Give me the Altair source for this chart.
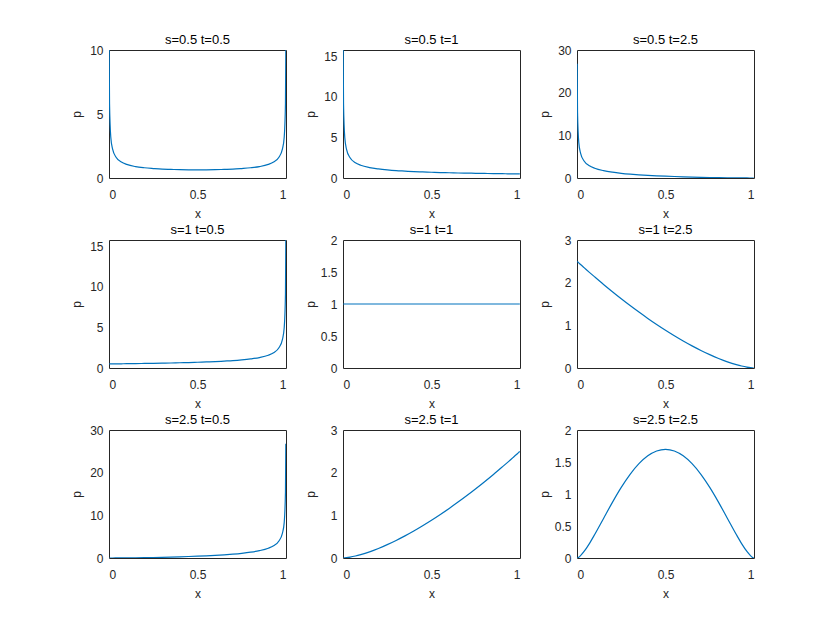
import altair as alt
import pandas as pd

# x positions at which the curves were read
X = [0.001, 0.003, 0.01, 0.02, 0.04, 0.07, 0.1, 0.15, 0.2, 0.25, 0.3, 0.35, 0.4, 0.45, 0.5,
     0.55, 0.6, 0.65, 0.7, 0.75, 0.8, 0.85, 0.9, 0.93, 0.96, 0.98, 0.99, 0.997, 0.999]

# p values
P_S05_T05 = [10.07, 5.82, 3.20, 2.27, 1.62, 1.25, 1.06, 0.89, 0.80, 0.74, 0.69, 0.67, 0.65, 0.64, 0.64,
             0.64, 0.65, 0.67, 0.69, 0.74, 0.80, 0.89, 1.06, 1.25, 1.62, 2.27, 3.20, 5.82, 10.07]
P_S05_T1 = [15.81, 9.13, 5.00, 3.54, 2.50, 1.89, 1.58, 1.29, 1.12, 1.00, 0.91, 0.85, 0.79, 0.75, 0.71,
            0.67, 0.65, 0.62, 0.60, 0.58, 0.56, 0.54, 0.53, 0.52, 0.51, 0.505, 0.50, 0.50, 0.50]
P_S05_T25 = [26.80, 15.43, 8.36, 5.82, 3.99, 2.877, 2.292, 1.717, 1.358, 1.103, 0.908, 0.752, 0.624, 0.516, 0.424,
             0.346, 0.277, 0.218, 0.167, 0.1225, 0.0849, 0.0535, 0.0283, 0.0163, 0.0069, 0.0024, 0.0009, 0.0001, 0.0]
P_S1_T05 = [0.50, 0.50, 0.50, 0.505, 0.51, 0.52, 0.53, 0.54, 0.56, 0.58, 0.60, 0.62, 0.65, 0.67, 0.71,
            0.75, 0.79, 0.85, 0.91, 1.00, 1.12, 1.29, 1.58, 1.89, 2.50, 3.54, 5.00, 9.13, 15.81]
P_S1_T1 = [1.0, 1.0, 1.0, 1.0, 1.0, 1.0, 1.0, 1.0, 1.0, 1.0, 1.0, 1.0, 1.0, 1.0, 1.0,
           1.0, 1.0, 1.0, 1.0, 1.0, 1.0, 1.0, 1.0, 1.0, 1.0, 1.0, 1.0, 1.0, 1.0]
P_S1_T25 = [2.496, 2.489, 2.463, 2.425, 2.352, 2.242, 2.135, 1.959, 1.789, 1.624, 1.464, 1.310, 1.162, 1.020, 0.884,
            0.755, 0.632, 0.518, 0.411, 0.3125, 0.224, 0.145, 0.079, 0.046, 0.020, 0.0071, 0.0025, 0.0004, 0.0001]
P_S25_T05 = [0.0, 0.0001, 0.0009, 0.0024, 0.0069, 0.0163, 0.0283, 0.0535, 0.0849, 0.1225, 0.167, 0.218, 0.277, 0.346, 0.424,
             0.516, 0.624, 0.752, 0.908, 1.103, 1.358, 1.717, 2.292, 2.877, 3.99, 5.82, 8.36, 15.43, 26.80]
P_S25_T1 = [0.0001, 0.0004, 0.0025, 0.0071, 0.020, 0.046, 0.079, 0.145, 0.224, 0.3125, 0.411, 0.518, 0.632, 0.755, 0.884,
            1.020, 1.162, 1.310, 1.464, 1.624, 1.789, 1.959, 2.135, 2.242, 2.352, 2.425, 2.463, 2.489, 2.496]
P_S25_T25 = [0.0004, 0.0022, 0.0134, 0.0373, 0.1022, 0.2256, 0.3667, 0.6183, 0.8692, 1.1027, 1.3070, 1.4737, 1.5968, 1.6722, 1.6977,
             1.6722, 1.5968, 1.4737, 1.3070, 1.1027, 0.8692, 0.6183, 0.3667, 0.2256, 0.1022, 0.0373, 0.0134, 0.0022, 0.0004]

TITLES = ["s=0.5 t=0.5", "s=0.5 t=1", "s=0.5 t=2.5",
          "s=1 t=0.5", "s=1 t=1", "s=1 t=2.5",
          "s=2.5 t=0.5", "s=2.5 t=1", "s=2.5 t=2.5"]
SERIES = [P_S05_T05, P_S05_T1, P_S05_T25, P_S1_T05, P_S1_T1, P_S1_T25, P_S25_T05, P_S25_T1, P_S25_T25]
Y_MAX = [10, 15.8, 30, 15.8, 2, 3, 30, 3, 2]
Y_TICKS = [[0, 5, 10], [0, 5, 10, 15], [0, 10, 20, 30],
           [0, 5, 10, 15], [0, 0.5, 1, 1.5, 2], [0, 1, 2, 3],
           [0, 10, 20, 30], [0, 1, 2, 3], [0, 0.5, 1, 1.5, 2]]
X_TICKS = [0, 0.5, 1]

W, H = 177, 128
FONT = "Liberation Sans"


def panel(title, ys, ymax, yticks):
    df = pd.DataFrame({"x": X, "p": ys})
    line = alt.Chart(df).mark_line(
        color="#0072BD", strokeWidth=1.2, clip=True, interpolate="monotone"
    ).encode(
        x=alt.X("x:Q", scale=alt.Scale(domain=[0, 1], nice=False, zero=False),
                axis=alt.Axis(values=X_TICKS, format="~r", title="x", titleX=W / 2, titleY=39,
                              titleBaseline="alphabetic", titleAlign="center", labelPadding=11)),
        y=alt.Y("p:Q", scale=alt.Scale(domain=[0, ymax], nice=False, zero=False),
                axis=alt.Axis(values=yticks, format="~r", title="p", titleX=-29, titleY=H / 2,
                              titleAngle=270, titleBaseline="alphabetic", titleAlign="center",
                              labelPadding=6)),
    )
    head = alt.Chart(pd.DataFrame({"t": [title]})).mark_text(
        font=FONT, fontSize=13, color="#000000", baseline="alphabetic", align="center"
    ).encode(
        text="t:N", x=alt.value(W / 2), y=alt.value(-5.6)
    )
    return alt.layer(line, head).properties(width=W, height=H)


panels = [panel(t, s, m, k) for t, s, m, k in zip(TITLES, SERIES, Y_MAX, Y_TICKS)]

chart = alt.concat(*panels, columns=3, spacing=alt.RowColnumber(row=62, column=57),
                   bounds="flush").properties(
    padding={"left": 61, "top": 25, "right": 10, "bottom": 10},
    background="white",
).configure_view(
    stroke="#262626", strokeWidth=1
).configure_axis(
    grid=False, domain=False, ticks=False,
    labelFont=FONT, labelFontSize=12, labelColor="#262626",
    titleFont=FONT, titleFontSize=12, titleFontWeight="normal", titleColor="#262626",
)

chart.save("out.html", embed_options={"renderer": "svg", "actions": False})
